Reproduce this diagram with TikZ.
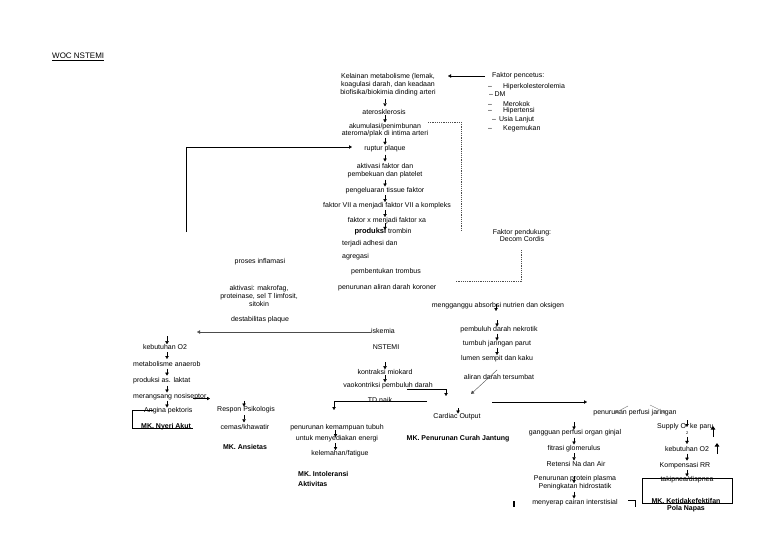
\documentclass[tikz,border=0pt]{standalone}
\usepackage{fontspec}
\setmainfont{Liberation Sans}
\usetikzlibrary{arrows.meta,calc}
\newcommand\vlink[3]{\draw[arr] ($(#1.south -| #3)!.5!(#2.north -| #3)+(0,-3.5)$) -- ++(0,7);}
\begin{document}
\begin{tikzpicture}[x=1pt,y=-1pt,
  every node/.style={inner sep=0pt, font=\fontsize{7}{8}\selectfont},
  ml/.style={align=center},
  mk/.style={font=\fontsize{7}{10}\selectfont\bfseries, align=center},
  arr/.style={-{Triangle[length=3pt,width=3.4pt]}, line width=0.4pt},
  uparr/.style={-{Triangle[length=3.5pt,width=4.5pt]}, line width=1pt},
  dots/.style={dash pattern=on 1.2pt off 1pt, line width=0.6pt, black!70},
  thickbox/.style={line width=0.9pt}]
\fill[white] (0,0) rectangle (768,543);
\useasboundingbox (0,0) rectangle (768,543);

% title
\node[anchor=west, font=\fontsize{8}{9}\selectfont] (title) at (52,57) {\underline{WOC NSTEMI}};

% main column
\coordinate (ax) at (385,0);
\node[ml] (kel) at (388,85) {Kelainan metabolisme (lemak,\\koagulasi darah, dan keadaan\\biofisika/biokimia dinding arteri};
\node (ater) at (384,112) {aterosklerosis};
\node[ml, font=\fontsize{7}{7}\selectfont] (akum) at (385,130) {akumulasi/penimbunan\\ateroma/plak di intima arteri};
\node (rupt) at (385,149) {ruptur plaque};
\node[ml] (aktf) at (385,171) {aktivasi faktor dan\\pembekuan dan platelet};
\node (peng) at (385,191) {pengeluaran tissue faktor};
\node (f7) at (387,206) {faktor VII a menjadi faktor VII a kompleks};
\node (fx) at (387,221) {faktor x menjadi faktor xa};
\node (prod) at (383,232) {{\fontsize{7.5}{8}\selectfont\bfseries produksi} trombin};
\node[anchor=west] (adh) at (342,244) {terjadi adhesi dan};
\node[anchor=west] (agr) at (342,257) {agregasi};
\node[anchor=west] (pemb) at (351,272) {pembentukan trombus};
\node[anchor=west] (penu) at (338,288) {penurunan aliran darah koroner};
\foreach \a/\b in {kel/ater, ater/akum, akum/rupt, rupt/aktf, aktf/peng, peng/f7, f7/fx, fx/prod}
  {\vlink{\a}{\b}{ax}}

% faktor pencetus
\node[anchor=west] (fp) at (492,76) {Faktor pencetus:};
\coordinate (fpa) at (485,76);
\coordinate (fpb) at (448,76);
\draw[arr] (fpa) -- (fpb);
\node[anchor=west] (fp1) at (488,87) {–\hspace{11pt}Hiperkolesterolemia};
\node[anchor=west] (fp2) at (489,94) {–\hspace{1.5pt}DM};
\node[anchor=west] (fp3) at (488,104) {–\hspace{11pt}Merokok};
\node[anchor=west] (fp4) at (488,111) {–\hspace{11pt}Hipertensi};
\node[anchor=west] (fp5) at (492,120) {–\hspace{3pt}Usia Lanjut};
\node[anchor=west] (fp6) at (488,129) {–\hspace{11pt}Kegemukan};

% dotted lines and faktor pendukung
\coordinate (d1) at (428,122);
\coordinate (d2) at (461,122);
\coordinate (d3) at (461,230);
\draw[dots] (d1) -- (d2) -- (d3);
\node[ml, font=\fontsize{7}{7.6}\selectfont] (fpd) at (522,235.5) {Faktor pendukung:\\Decom Cordis};
\coordinate (e1) at (521,250);
\coordinate (e2) at (521,281);
\coordinate (e3) at (456,281);
\draw[dots] (e1) -- (e2) -- (e3);

% loop back to ruptur plaque
\coordinate (l1) at (186,232);
\coordinate (l2) at (186,147);
\coordinate (l3) at (352,147);
\draw[arr, line width=0.6pt] (l1) -- (l2) -- (l3);

% left middle
\node (infl) at (260,262) {proses inflamasi};
\node[ml] (akt) at (259,296) {aktivasi: makrofag,\\proteinase, sel T limfosit,\\sitokin};
\node (dest) at (260,320) {destabilitas plaque};
\node (isk) at (383,331) {iskemia};
\coordinate (iskL) at (197,332);
\draw[arr, black!70] (isk.west |- iskL) -- (iskL);

% centre
\node (nst) at (386,347) {NSTEMI};
\node (kont) at (385,372) {kontraksi miokard};
\node (vaok) at (388,386) {vaokontriksi pembuluh darah};
\coordinate (kt0) at (385,362);
\draw[arr] (kt0) -- (kont.north -| ax);
\vlink{kont}{vaok}{ax}
\coordinate (v1) at (407,389);
\coordinate (v2) at (446,389);
\coordinate (v3) at (446,396);
\draw[arr] (v1) -- (v2) -- (v3);
\node (td) at (380,400) {TD naik};
\coordinate (t1) at (427,401);
\coordinate (t2) at (334,401);
\coordinate (t3) at (334,410);
\draw[arr] (t1) -- (t2) -- (t3);
\coordinate (r1) at (492,402);
\coordinate (r2) at (587,402);
\draw[arr] (r1) -- (r2);

% right of centre
\coordinate (ax2) at (497,0);
\node (meng) at (498,306) {mengganggu absorbsi nutrien dan oksigen};
\coordinate (mg0) at (496,304);
\draw[arr] (mg0) -- (496,311);
\node (nekr) at (499,330) {pembuluh darah nekrotik};
\node (parut) at (497,344) {tumbuh jaringan parut};
\node (lum) at (497,359) {lumen sempit dan kaku};
\node (alir) at (499,377) {aliran darah tersumbat};
\coordinate (nk0) at (497,320);
\draw[arr] (nk0) -- (nekr.north -| ax2);
\vlink{nekr}{parut}{ax2}
\vlink{parut}{lum}{ax2}
\coordinate (dg1) at (497,370);
\coordinate (dg2) at (471,394);
\draw[arr, black!70] (dg1) -- (dg2);

\node (co) at (457,417) {Cardiac Output};
\coordinate (co1) at (458,408);
\draw[arr] (co1) -- (co.north -| co1);
\node[mk] (mkcj) at (458,439) {MK. Penurunan Curah Jantung};

% left column
\coordinate (ax3) at (167,0);
\coordinate (kbt) at (167,336);
\node (kb) at (165,347) {kebutuhan O2};
\node[anchor=west] (mtb) at (133,364) {metabolisme anaerob};
\node[anchor=west] (lak) at (133,381) {produksi as. laktat};
\node[anchor=west] (nos) at (133,397) {merangsang nosiseptor};
\node[anchor=west] (ang) at (144,411) {Angina pektoris};
\node[mk, anchor=west] (mkna) at (141,427) {MK. Nyeri Akut};
\draw[arr] (kbt) -- (kb.north -| ax3);
\vlink{kb}{mtb}{ax3}
\vlink{mtb}{lak}{ax3}
\vlink{lak}{nos}{ax3}
\vlink{nos}{ang}{ax3}
\coordinate (n1) at (193,398.5);
\coordinate (n2) at (210,398.5);
\draw[arr] (n1) -- (n2);
\coordinate (b1) at (153,410);
\coordinate (b2) at (132,410);
\coordinate (b3) at (132,428);
\coordinate (b4) at (193,428);
\draw[thickbox] (b1) -- (b2) -- (b3) -- (b4);

\coordinate (ax4) at (244,0);
\coordinate (rs0) at (244,401);
\node (resp) at (246,410) {Respon Psikologis};
\node (cem) at (245,427) {cemas/khawatir};
\node[mk] (mkan) at (245,447) {MK. Ansietas};
\draw[arr] (rs0) -- (resp.north -| ax4);
\vlink{resp}{cem}{ax4}

% centre bottom
\node (pk1) at (337,428) {penurunan kemampuan tubuh};
\node (pk2) at (337,439) {untuk menyediakan energi};
\node (lem) at (340,454) {kelemahan/fatigue};
\node[mk, align=left, anchor=west] (mkia) at (298,479) {MK. Intoleransi\\Aktivitas};
\coordinate (ax5) at (335.5,0);
\vlink{pk1}{pk2}{ax5}
\vlink{pk2}{lem}{ax5}

% right bottom
\node (ppj) at (635,413) {penurunan perfusi jaringan};
\coordinate (p1) at (628,406);
\coordinate (p2) at (615,413);
\coordinate (p3) at (650,405);
\coordinate (p4) at (666,413);
\draw[arr, black!55] (p1) -- (p2);
\draw[arr, black!55] (p3) -- (p4);

\coordinate (ax6) at (574,0);
\coordinate (g0) at (574,422);
\node (ggn) at (575,433) {gangguan perfusi organ ginjal};
\node (fil) at (574,449) {fitrasi glomerulus};
\node (ret) at (576,464) {Retensi Na dan Air};
\node[ml] (prot) at (575,483) {Penurunan protein plasma\\Peningkatan hidrostatik};
\node (meny) at (575,503) {menyerap cairan interstisial};
\coordinate (pr0) at (574,476);
\draw[arr] (g0) -- (ggn.north -| ax6);
\vlink{ggn}{fil}{ax6}
\vlink{fil}{ret}{ax6}
\draw[arr] (pr0) -- (574,483);
\vlink{prot}{meny}{ax6}
\coordinate (m1) at (514,501);
\coordinate (m2) at (514,507);
\draw[line width=1.2pt] (m1) -- (m2);
\coordinate (k1) at (628,500);
\coordinate (k2) at (635,500);
\coordinate (k3) at (635,507);
\draw[line width=1pt] (k1) -- (k2) -- (k3);

% far right
\coordinate (ax7) at (687,0);
\coordinate (s0) at (687,420);
\node[anchor=west] (sup) at (657,429) {Supply O\raisebox{-6pt}{\fontsize{4}{4}\selectfont 2} ke paru};
\node (kb2) at (687,449) {kebutuhan O2};
\node (komp) at (685,466) {Kompensasi RR};
\node (taki) at (687,480) {takipnea/dispnea};
\draw[arr] (s0) -- (687,427);
\vlink{sup}{kb2}{ax7}
\vlink{kb2}{komp}{ax7}
\vlink{komp}{taki}{ax7}
\coordinate (u1) at (713,437);
\coordinate (u2) at (713,426);
\coordinate (u3) at (717,454);
\coordinate (u4) at (717,443);
\draw[uparr] (u1) -- (u2);
\draw[uparr] (u3) -- (u4);
\coordinate (bx1) at (642,478);
\coordinate (bx2) at (732,503);
\draw[thickbox] (bx1) rectangle (bx2);
\node[mk] (mkk) at (686,500.5) {MK. Ketidakefektifan};
\node[mk] (pola) at (686,509) {Pola Napas};
\end{tikzpicture}
\end{document}
